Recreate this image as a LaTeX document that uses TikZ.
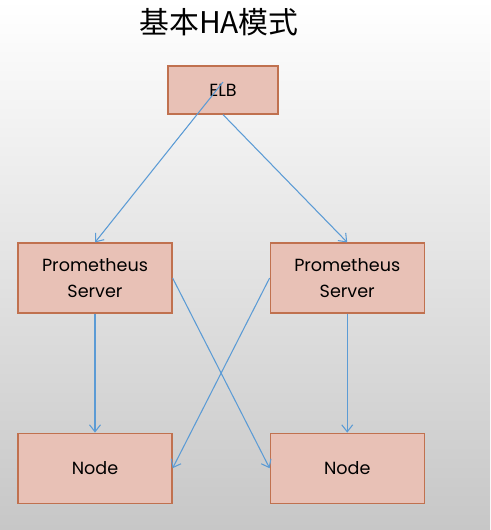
\documentclass[tikz,border=0pt]{standalone}
\usepackage{fontspec}
\setmainfont{Poppins}
\newfontfamily\cjk{Noto Sans CJK SC}
\usepackage{tikz}
\usetikzlibrary{arrows.meta}
\usetikzlibrary{positioning}
\definecolor{boxfill}{HTML}{E8C1B6}
\definecolor{boxline}{HTML}{C0714F}
\definecolor{linkblue}{HTML}{5B9BD5}
\tikzstyle{box}=[draw=boxline,fill=boxfill,line width=0.7pt,minimum width=3.08cm,minimum height=1.4cm,align=center,font=\fontsize{10}{14.7}\selectfont]
\tikzstyle{link}=[draw=linkblue,line width=0.6pt,-{Straight Barb[length=1.4mm,width=2.2mm]}]

\begin{document}
\begin{tikzpicture}
\shade [top color=white,middle color=black!5,bottom color=black!22] (0,0) rectangle (9.8,-10.6);
\useasboundingbox (0,0) rectangle (9.8,-10.6);
\node (title) at (4.38,-0.44) {\cjk\fontsize{17}{20}\selectfont 基本HA模式};
\node [box,minimum width=2.2cm,minimum height=0.96cm] (elb) at (4.46,-1.8) {ELB};
\node [box] (ps1) at (1.9,-5.56) {Prometheus\\Server};
\node [box,right=1.94cm of ps1] (ps2) {Prometheus\\Server};
\node [box,below=2.38cm of ps1] (n1) {Node};
\node [box,below=2.38cm of ps2] (n2) {Node};
% links
\draw [link] ([yshift=0.16cm]elb.center) -- (ps1.north);
\draw [link] (elb.south) -- (ps2.north);
\draw [link] (ps1) -- (n1);
\draw [link] (ps2) -- (n2);
\draw [link] (ps1.east) -- (n2.west);
\draw [link] (ps2.west) -- (n1.east);
\end{tikzpicture}
\end{document}
